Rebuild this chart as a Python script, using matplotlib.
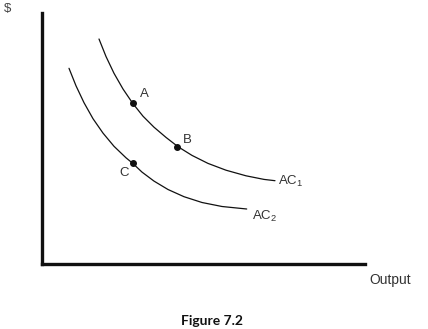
import matplotlib
matplotlib.use("Agg")
import matplotlib.pyplot as plt

# cost curves (output, $)
ac1_x = [57, 64, 72, 81, 90.7, 101, 112, 124, 136, 150, 166, 184, 204, 222, 233]
ac1_y = [225, 207.5, 190.7, 175.0, 160.7, 147.8, 136.8, 126.6, 117.3, 108.6, 100.6, 93.8, 88.2, 84.6, 83.3]
ac2_x = [27, 34, 42, 51, 61, 72, 84, 90.7, 100, 112, 126, 142, 160, 180, 204.7]
ac2_y = [195.7, 178.2, 161.3, 145.3, 130.9, 117.7, 106.2, 100.7, 91.9, 82.9, 74.5, 67.3, 61.5, 57.5, 55]

points = ["A", "B", "C"]
pt_x = [90.7, 135.5, 90.7]
pt_y = [160.7, 117.3, 100.7]
pt_label_off = [(12, 9.5), (9.5, 6.5), (-9, -10)]

plt.rcParams["mathtext.fontset"] = "custom"
plt.rcParams["mathtext.rm"] = "Liberation Sans"
plt.rcParams["font.family"] = "Liberation Sans"

fig = plt.figure(figsize=(4.28, 3.29), dpi=100)
ax = fig.add_axes([42 / 428, 65 / 329, 323 / 428, 251 / 329])
ax.set_xlim(0, 323)
ax.set_ylim(0, 251)
for s in ["top", "right"]:
    ax.spines[s].set_visible(False)
for s in ["left", "bottom"]:
    ax.spines[s].set_linewidth(2.4)
    ax.spines[s].set_color("#111111")
ax.set_xticks([])
ax.set_yticks([])

ax.plot(ac1_x, ac1_y, color="#111111", lw=0.9, solid_capstyle="round")
ax.plot(ac2_x, ac2_y, color="#111111", lw=0.9, solid_capstyle="round")
ax.plot(pt_x, pt_y, "o", color="#111111", ms=4)
for name, x, y, (dx, dy) in zip(points, pt_x, pt_y, pt_label_off):
    ax.text(x + dx, y + dy, name, fontsize=9.5, color="#333333", ha="center", va="center")

ax.text(ac1_x[-1] + 2.5, ac1_y[-1] - 1, r"AC$_1$", fontsize=9.5, color="#333333", ha="left", va="center")
ax.text(ac2_x[-1] + 5, ac2_y[-1] - 7, r"AC$_2$", fontsize=9.5, color="#333333", ha="left", va="center")

fig.text(8 / 428, 1 - 9 / 329, r"\$", fontsize=9.5, color="#444444", ha="center", va="center")
fig.text(390 / 428, 1 - 280 / 329, "Output", fontsize=10, color="#333333", ha="center", va="center")
fig.text(212 / 428, 1 - 321 / 329, "Figure 7.2", fontsize=10, fontweight="bold",
         family="Lato", color="#111111", ha="center", va="center")

fig.savefig("out.png", dpi=100)
